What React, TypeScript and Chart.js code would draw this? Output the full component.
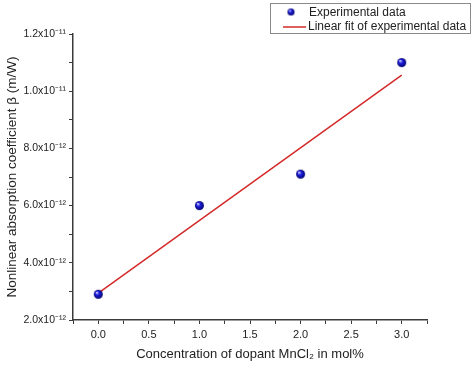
import React, { useEffect, useRef } from "react";
import { Chart, registerables } from "chart.js";
Chart.register(...registerables);

const concentration = [0, 1, 2, 3];
const beta = [2.9e-12, 6.0e-12, 7.1e-12, 1.1e-11];
const fitX = [0, 3];
const fitY = [2.94e-12, 10.56e-12];
const seriesLabels = ["Experimental data", "Linear fit of experimental data"];
const xTitle = "Concentration of dopant MnCl\u2082 in mol%";
const yTitle = "Nonlinear absorption coefficient \u03b2 (m/W)";

const FONT = "'Liberation Sans', Arial, sans-serif";
const LINE_COLOR = "#d42a2a";

function makeSphere(r: number): HTMLCanvasElement {
  const c = document.createElement("canvas");
  const s = r * 2 + 2;
  c.width = s;
  c.height = s;
  const ctx = c.getContext("2d")!;
  const g = ctx.createRadialGradient(s / 2 - r * 0.35, s / 2 - r * 0.4, r * 0.1, s / 2, s / 2, r);
  g.addColorStop(0, "#c8c8ff");
  g.addColorStop(0.35, "#2020e0");
  g.addColorStop(1, "#000070");
  ctx.fillStyle = g;
  ctx.beginPath();
  ctx.arc(s / 2, s / 2, r, 0, Math.PI * 2);
  ctx.fill();
  return c;
}

const supDigits: Record<string, string> = { "1": "\u00b9", "2": "\u00b2" };
function sup(s: string) {
  return "\u207b" + s.split("").map((d) => supDigits[d] || d).join("");
}

export default function App() {
  const ref = useRef<HTMLCanvasElement>(null);
  useEffect(() => {
    document.body.style.margin = "0";
    const sphere = makeSphere(4.5);
    const legendPlugin = {
      id: "boxLegend",
      afterDraw(chart: any) {
        const ctx = chart.ctx;
        ctx.save();
        ctx.fillStyle = "#fff";
        ctx.strokeStyle = "#8a8a8a";
        ctx.lineWidth = 1;
        ctx.fillRect(270.5, 3.5, 200, 30);
        ctx.strokeRect(270.5, 3.5, 200, 30);
        const sm = makeSphere(3.5);
        ctx.drawImage(sm, 291 - sm.width / 2, 12 - sm.height / 2);
        ctx.strokeStyle = LINE_COLOR;
        ctx.lineWidth = 1.5;
        ctx.beginPath();
        ctx.moveTo(283, 27);
        ctx.lineTo(306, 27);
        ctx.stroke();
        ctx.fillStyle = "#222";
        ctx.font = `12px ${FONT}`;
        ctx.textBaseline = "middle";
        ctx.textAlign = "left";
        ctx.fillText(chart.data.datasets[0].label, 309, 13);
        ctx.fillText(chart.data.datasets[1].label, 308, 27);
        ctx.restore();
      },
    };
    const chart = new Chart(ref.current!, {
      type: "scatter",
      data: {
        datasets: [
          {
            label: seriesLabels[0],
            data: concentration.map((x, i) => ({ x, y: beta[i] })),
            pointStyle: sphere as any,
            pointRadius: 4.5,
            showLine: false,
            order: 0,
          },
          {
            label: seriesLabels[1],
            data: fitX.map((x, i) => ({ x, y: fitY[i] })),
            showLine: true,
            borderColor: LINE_COLOR,
            borderWidth: 1.5,
            pointRadius: 0,
            order: 1,
          },
        ],
      },
      options: {
        animation: false,
        responsive: false,
        maintainAspectRatio: false,
        layout: { padding: { top: 34, right: 47, left: 0, bottom: 0 } },
        plugins: { legend: { display: false }, tooltip: { enabled: false } },
        scales: {
          x: {
            type: "linear",
            min: -0.25,
            max: 3.25,
            afterFit: (s: any) => {
              s.height = 47;
            },
            border: { color: "#3a3a3a", width: 1.5 },
            grid: { drawOnChartArea: false, tickLength: 4, color: "#3a3a3a" },
            ticks: {
              stepSize: 0.25,
              autoSkip: false,
              maxRotation: 0,
              color: "#222",
              font: { family: FONT, size: 11 },
              padding: 4,
              callback: (v: any) => {
                const k = Math.round(Number(v) * 4);
                return k % 2 === 0 && k >= 0 ? (k / 4).toFixed(1) : "";
              },
            },
            title: {
              display: true,
              text: xTitle,
              color: "#222",
              font: { family: FONT, size: 13 },
              padding: { top: 2, bottom: 5 },
            },
          },
          y: {
            type: "linear",
            min: 2e-12,
            max: 1.2e-11,
            afterFit: (s: any) => {
              s.width = 73;
            },
            border: { color: "#3a3a3a", width: 1.5 },
            grid: { drawOnChartArea: false, tickLength: 4, color: "#3a3a3a" },
            ticks: {
              stepSize: 1e-12,
              autoSkip: false,
              color: "#222",
              font: { family: FONT, size: 10.5 },
              padding: 3,
              callback: (v: any) => {
                const k = Math.round(Number(v) / 1e-12);
                if (k % 2 !== 0) return "";
                if (k < 10) return `${k}.0x10${sup("12")}`;
                return `${(k / 10).toFixed(1)}x10${sup("11")}`;
              },
            },
            title: {
              display: true,
              text: yTitle,
              color: "#222",
              font: { family: FONT, size: 13.5 },
              padding: { top: 4, bottom: 0 },
            },
          },
        },
      },
      plugins: [legendPlugin],
    });
    return () => chart.destroy();
  }, []);
  return (
    <div style={{ width: 474, height: 367, background: "#fff" }}>
      <canvas ref={ref} width={474} height={367} style={{ width: 474, height: 367 }} />
    </div>
  );
}
